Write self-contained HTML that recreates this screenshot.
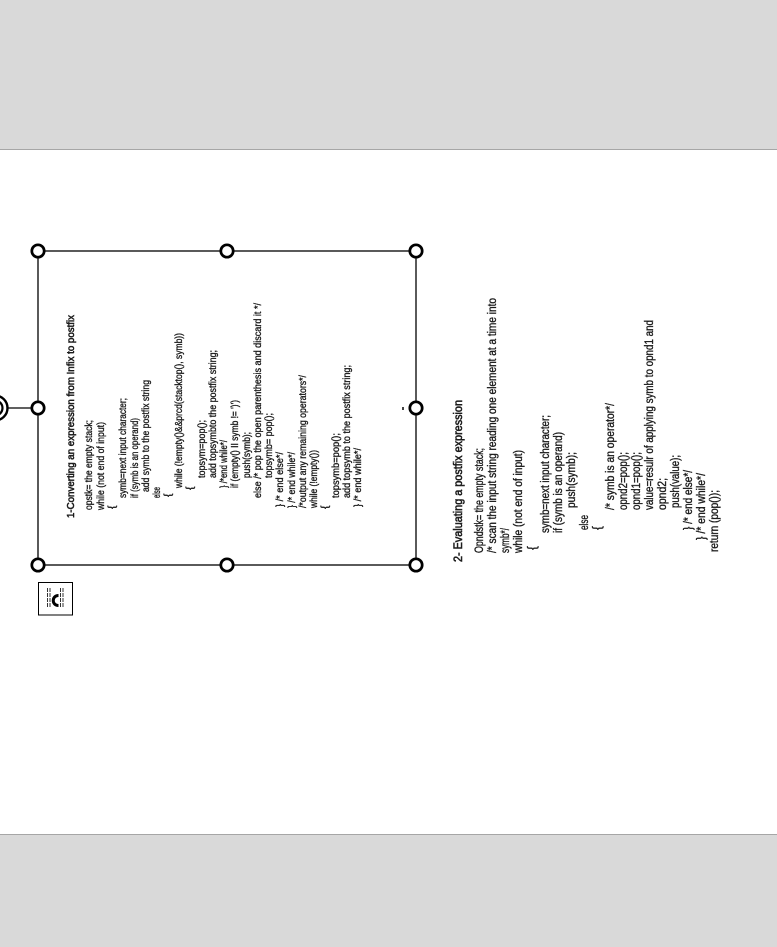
<!DOCTYPE html>
<html><head><meta charset="utf-8"><style>
html,body{margin:0;padding:0;background:#fff;width:777px;height:947px;overflow:hidden}
svg{display:block}
text{font-family:"Liberation Sans",sans-serif;font-size:10.5px;fill:#1a1a1a;stroke:#1a1a1a;stroke-width:.35px}
.t{filter:blur(.35px)}
.h text{stroke-width:.55px}
.r text{font-size:11.5px}
</style></head><body>
<svg width="777" height="947" viewBox="0 0 777 947" xmlns="http://www.w3.org/2000/svg">
<rect width="777" height="947" fill="#fff"/>
<rect width="777" height="150" fill="#d9d9d9"/>
<rect y="149" width="777" height="1" fill="#a6a6a6"/>
<rect y="835" width="777" height="112" fill="#d9d9d9"/>
<rect y="834" width="777" height="1" fill="#a6a6a6"/>

<g class="t">
<g class="h">
<text transform="translate(74,518) rotate(-90)" textLength="203" lengthAdjust="spacingAndGlyphs">1-Converting an expression from Infix to postfix</text>
</g>
<text transform="translate(92,510) rotate(-90)" textLength="90" lengthAdjust="spacingAndGlyphs">opstk= the empty stack;</text>
<text transform="translate(104,510) rotate(-90)" textLength="88" lengthAdjust="spacingAndGlyphs">while (not end of input)</text>
<text transform="translate(115,509) rotate(-90)">{</text>
<text transform="translate(126,498) rotate(-90)" textLength="100" lengthAdjust="spacingAndGlyphs">symb=next input character;</text>
<text transform="translate(138,498) rotate(-90)" textLength="80" lengthAdjust="spacingAndGlyphs">if (symb is an operand)</text>
<text transform="translate(149,492) rotate(-90)" textLength="112" lengthAdjust="spacingAndGlyphs">add symb to the postfix string</text>
<text transform="translate(160,498) rotate(-90)" textLength="11" lengthAdjust="spacingAndGlyphs">else</text>
<text transform="translate(171,497) rotate(-90)">{</text>
<text transform="translate(182,488) rotate(-90)" textLength="155" lengthAdjust="spacingAndGlyphs">while (!empty()&amp;&amp;prcd(stacktop(), symb))</text>
<text transform="translate(193,490) rotate(-90)">{</text>
<text transform="translate(205,478) rotate(-90)" textLength="58" lengthAdjust="spacingAndGlyphs">topsym=pop();</text>
<text transform="translate(216,478) rotate(-90)" textLength="128" lengthAdjust="spacingAndGlyphs">add topsymbto the postfix string;</text>
<text transform="translate(227,488) rotate(-90)" textLength="48" lengthAdjust="spacingAndGlyphs">} /*end while*/</text>
<text transform="translate(238,488) rotate(-90)" textLength="88" lengthAdjust="spacingAndGlyphs">if (empty() II symb != ')')</text>
<text transform="translate(250,478) rotate(-90)" textLength="46" lengthAdjust="spacingAndGlyphs">push(symb);</text>
<text transform="translate(261,498) rotate(-90)" textLength="195" lengthAdjust="spacingAndGlyphs">else /* pop the open parenthesis and discard it */</text>
<text transform="translate(272,478) rotate(-90)" textLength="65" lengthAdjust="spacingAndGlyphs">topsymb= pop();</text>
<text transform="translate(283,507) rotate(-90)" textLength="55" lengthAdjust="spacingAndGlyphs">} /* end else*/</text>
<text transform="translate(295,508) rotate(-90)" textLength="56" lengthAdjust="spacingAndGlyphs">} /* end while*/</text>
<text transform="translate(306,508) rotate(-90)" textLength="133" lengthAdjust="spacingAndGlyphs">/*output any remaining operators*/</text>
<text transform="translate(317,508) rotate(-90)" textLength="58" lengthAdjust="spacingAndGlyphs">while (!empty())</text>
<text transform="translate(328,509) rotate(-90)">{</text>
<text transform="translate(339,498) rotate(-90)" textLength="65" lengthAdjust="spacingAndGlyphs">topsymb=pop();</text>
<text transform="translate(350,498) rotate(-90)" textLength="133" lengthAdjust="spacingAndGlyphs">add topsymb to the postfix string;</text>
<text transform="translate(361,507) rotate(-90)" textLength="59" lengthAdjust="spacingAndGlyphs">} /* end while*/</text>

<g class="r">
<g class="h">
<text transform="translate(462,562) rotate(-90)" textLength="162" lengthAdjust="spacingAndGlyphs">2- Evaluating a postfix expression</text>
</g>
<text transform="translate(483,553) rotate(-90)" textLength="105" lengthAdjust="spacingAndGlyphs">Opndstk= the empty stack;</text>
<text transform="translate(496,553) rotate(-90)" textLength="255" lengthAdjust="spacingAndGlyphs">/* scan the input string reading one element at a time into</text>
<text transform="translate(509,553) rotate(-90)" textLength="25" lengthAdjust="spacingAndGlyphs">symb*/</text>
<text transform="translate(522,553) rotate(-90)" textLength="103" lengthAdjust="spacingAndGlyphs">while (not end of input)</text>
<text transform="translate(536,550) rotate(-90)">{</text>
<text transform="translate(549,533) rotate(-90)" textLength="118" lengthAdjust="spacingAndGlyphs">symb=next input character;</text>
<text transform="translate(562,533) rotate(-90)" textLength="101" lengthAdjust="spacingAndGlyphs">if (symb is an operand)</text>
<text transform="translate(575,508) rotate(-90)" textLength="56" lengthAdjust="spacingAndGlyphs">push(symb);</text>
<text transform="translate(588,530) rotate(-90)" textLength="15" lengthAdjust="spacingAndGlyphs">else</text>
<text transform="translate(601,530) rotate(-90)">{</text>
<text transform="translate(614,510) rotate(-90)" textLength="107" lengthAdjust="spacingAndGlyphs">/* symb is an operator*/</text>
<text transform="translate(627,510) rotate(-90)" textLength="58" lengthAdjust="spacingAndGlyphs">opnd2=pop();</text>
<text transform="translate(640,510) rotate(-90)" textLength="58" lengthAdjust="spacingAndGlyphs">opnd1=pop();</text>
<text transform="translate(653,510) rotate(-90)" textLength="190" lengthAdjust="spacingAndGlyphs">value=resulr of applying symb to opnd1 and</text>
<text transform="translate(666,510) rotate(-90)" textLength="32" lengthAdjust="spacingAndGlyphs">opnd2;</text>
<text transform="translate(679,508) rotate(-90)" textLength="53" lengthAdjust="spacingAndGlyphs">push(value);</text>
<text transform="translate(692,530) rotate(-90)" textLength="60" lengthAdjust="spacingAndGlyphs">} /* end else*/</text>
<text transform="translate(705,540) rotate(-90)" textLength="67" lengthAdjust="spacingAndGlyphs">} /* end while*/</text>
<text transform="translate(718,552) rotate(-90)" textLength="62" lengthAdjust="spacingAndGlyphs">return (pop());</text>
</g>
<rect x="402" y="407" width="2" height="3" fill="#444"/>
</g>

<!-- rotate handle rings and stem -->
<circle cx="-5" cy="408" r="12.5" fill="none" stroke="#000" stroke-width="2.4"/>
<circle cx="-5" cy="408" r="7.5" fill="none" stroke="#000" stroke-width="2.2"/>
<line x1="8" y1="408" x2="38" y2="408" stroke="#000" stroke-width="1.2"/>

<rect x="38" y="251" width="378" height="314" fill="none" stroke="#000" stroke-width="1.3"/>
<g fill="#fff" stroke="#000" stroke-width="2.7">
<circle cx="38" cy="251" r="6.2"/><circle cx="227" cy="251" r="6.2"/><circle cx="416" cy="251" r="6.2"/>
<circle cx="38" cy="408" r="6.2"/><circle cx="416" cy="408" r="6.2"/>
<circle cx="38" cy="565" r="6.2"/><circle cx="227" cy="565" r="6.2"/><circle cx="416" cy="565" r="6.2"/>
</g>

<rect x="38.5" y="582.5" width="34" height="32.5" fill="#fff" stroke="#000" stroke-width="1"/>
<g stroke="#333" stroke-width="1" stroke-dasharray="4 1">
<line x1="47.5" y1="588" x2="47.5" y2="608"/><line x1="50" y1="588" x2="50" y2="608"/>
<line x1="60.5" y1="588" x2="60.5" y2="608"/><line x1="63" y1="588" x2="63" y2="608"/>
</g>
<path d="M58.5 595.5 C51.5 595.5 51.5 605.5 58.5 605.5" fill="none" stroke="#000" stroke-width="3"/>
</svg>
</body></html>
